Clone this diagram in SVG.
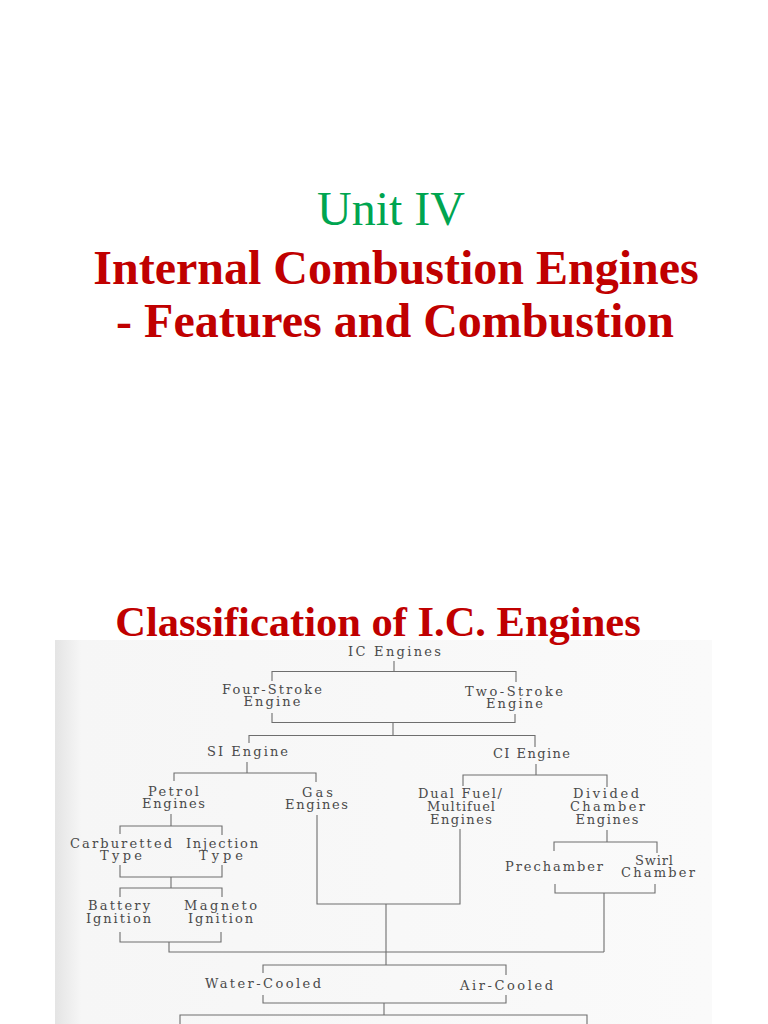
<svg xmlns="http://www.w3.org/2000/svg" width="768" height="1024" viewBox="0 0 768 1024">
<defs>
<linearGradient id="scan" x1="0" y1="0" x2="1" y2="0">
<stop offset="0" stop-color="#e4e4e4"/>
<stop offset="0.04" stop-color="#f6f6f6"/>
<stop offset="1" stop-color="#fafafa"/>
</linearGradient>
<style>
.title{font-family:"Liberation Serif","Times New Roman",serif;text-anchor:middle}
.green{fill:#00a550;font-size:48px}
.red{fill:#c00000;font-weight:bold}
.n{font-family:"DejaVu Serif","Liberation Serif",serif;font-size:13px;fill:#4a4a4a;text-anchor:middle}
.c{fill:none;stroke:#6e6e6e;stroke-width:1.1}
</style>
</defs>
<rect width="768" height="1024" fill="#ffffff"/>
<rect x="55" y="640" width="657" height="384" fill="url(#scan)"/>
<text class="title green" x="391" y="225">Unit IV</text>
<text class="title red" x="396" y="284" font-size="48">Internal Combustion Engines</text>
<text class="title red" x="395" y="337" font-size="48">- Features and Combustion</text>
<text class="title red" x="378" y="636" font-size="42.5">Classification of I.C. Engines</text>
<g id="connectors">
<path class="c" d="M394 661V672"/>
<path class="c" d="M272 681V671.5H516V682"/>
<path class="c" d="M272 713V722.5H515V714"/>
<path class="c" d="M393 723V736"/>
<path class="c" d="M249 743V735.5H535V747"/>
<path class="c" d="M247 762V773"/>
<path class="c" d="M174 781V773H316V782"/>
<path class="c" d="M171 814V826"/>
<path class="c" d="M120 834V826H222V835"/>
<path class="c" d="M120 865V877H222V865"/>
<path class="c" d="M171 877V888"/>
<path class="c" d="M120 897V888H222V897"/>
<path class="c" d="M120 932V942H221V932"/>
<path class="c" d="M169 942V952H604"/>
<path class="c" d="M536 764V775"/>
<path class="c" d="M463 786V775H607V787"/>
<path class="c" d="M607 830V842"/>
<path class="c" d="M554 851V842H657V853"/>
<path class="c" d="M555 884V893H655V884"/>
<path class="c" d="M604 893V952"/>
<path class="c" d="M317 815V904H460V829"/>
<path class="c" d="M386 904V965"/>
<path class="c" d="M263 973V965H506V975"/>
<path class="c" d="M263 995V1003H506V995"/>
<path class="c" d="M384 1003V1015"/>
<path class="c" d="M180 1024V1015H587V1024"/>
</g>
<g id="ic-engines"><text class="n" x="394.5" y="656" textLength="93" lengthAdjust="spacing">IC Engines</text></g>
<g id="four-stroke"><text class="n" x="272" y="694" textLength="100" lengthAdjust="spacing">Four-Stroke</text><text class="n" x="272" y="706" textLength="57" lengthAdjust="spacing">Engine</text></g>
<g id="two-stroke"><text class="n" x="514" y="696" textLength="98" lengthAdjust="spacing">Two-Stroke</text><text class="n" x="514.5" y="708" textLength="57" lengthAdjust="spacing">Engine</text></g>
<g id="si-engine"><text class="n" x="247.5" y="756" textLength="81" lengthAdjust="spacing">SI Engine</text></g>
<g id="ci-engine"><text class="n" x="531.5" y="758" textLength="77" lengthAdjust="spacing">CI Engine</text></g>
<g id="petrol"><text class="n" x="173.5" y="796" textLength="51" lengthAdjust="spacing">Petrol</text><text class="n" x="173.5" y="808" textLength="63" lengthAdjust="spacing">Engines</text></g>
<g id="gas"><text class="n" x="317.5" y="797" textLength="31" lengthAdjust="spacing">Gas</text><text class="n" x="316.5" y="809" textLength="63" lengthAdjust="spacing">Engines</text></g>
<g id="carburetted"><text class="n" x="121" y="848" textLength="102" lengthAdjust="spacing">Carburetted</text><text class="n" x="121" y="860" textLength="42" lengthAdjust="spacing">Type</text></g>
<g id="injection"><text class="n" x="222" y="848" textLength="72" lengthAdjust="spacing">Injection</text><text class="n" x="221" y="860" textLength="44" lengthAdjust="spacing">Type</text></g>
<g id="battery"><text class="n" x="119" y="910" textLength="62" lengthAdjust="spacing">Battery</text><text class="n" x="118.5" y="923" textLength="65" lengthAdjust="spacing">Ignition</text></g>
<g id="magneto"><text class="n" x="220.5" y="910" textLength="73" lengthAdjust="spacing">Magneto</text><text class="n" x="220.5" y="923" textLength="65" lengthAdjust="spacing">Ignition</text></g>
<g id="dual-fuel"><text class="n" x="460" y="798" textLength="84" lengthAdjust="spacing">Dual Fuel/</text><text class="n" x="461" y="811" textLength="68" lengthAdjust="spacing">Multifuel</text><text class="n" x="461" y="824" textLength="62" lengthAdjust="spacing">Engines</text></g>
<g id="divided"><text class="n" x="606" y="798" textLength="66" lengthAdjust="spacing">Divided</text><text class="n" x="607.5" y="811" textLength="75" lengthAdjust="spacing">Chamber</text><text class="n" x="607" y="824" textLength="63" lengthAdjust="spacing">Engines</text></g>
<g id="prechamber"><text class="n" x="554" y="871" textLength="98" lengthAdjust="spacing">Prechamber</text></g>
<g id="swirl"><text class="n" x="654" y="865" textLength="38" lengthAdjust="spacing">Swirl</text><text class="n" x="658" y="877" textLength="74" lengthAdjust="spacing">Chamber</text></g>
<g id="water-cooled"><text class="n" x="263" y="988" textLength="116" lengthAdjust="spacing">Water-Cooled</text></g>
<g id="air-cooled"><text class="n" x="506.5" y="990" textLength="93" lengthAdjust="spacing">Air-Cooled</text></g>
</svg>
